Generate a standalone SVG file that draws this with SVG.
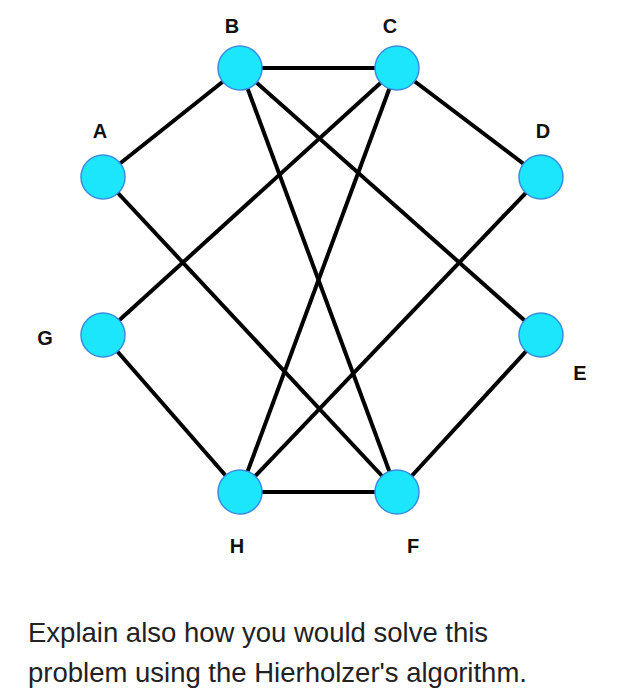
<svg xmlns="http://www.w3.org/2000/svg" width="625" height="700" viewBox="0 0 625 700">
<style>
.n{fill:#1be6fc;stroke:#3a8ee0;stroke-width:1.5}
.l{font-family:"Liberation Sans",Arial,sans-serif;font-weight:bold;font-size:20px;fill:#111;text-anchor:middle}
.e{stroke:#000;stroke-width:4;fill:none}
.t{font-family:"Liberation Sans",Arial,sans-serif;font-size:27.5px;fill:#222}
</style>
<rect width="625" height="700" fill="#fff"/>
<g id="connectors">
<line class="e" x1="240" y1="68" x2="397" y2="68"/>
<line class="e" x1="103" y1="177" x2="240" y2="68"/>
<line class="e" x1="103" y1="177" x2="397" y2="492"/>
<line class="e" x1="240" y1="68" x2="397" y2="492"/>
<line class="e" x1="240" y1="68" x2="541" y2="335"/>
<line class="e" x1="397" y1="68" x2="103" y2="335"/>
<line class="e" x1="397" y1="68" x2="240" y2="492"/>
<line class="e" x1="397" y1="68" x2="541" y2="177"/>
<line class="e" x1="103" y1="335" x2="240" y2="492"/>
<line class="e" x1="240" y1="492" x2="397" y2="492"/>
<line class="e" x1="541" y1="177" x2="240" y2="492"/>
<line class="e" x1="541" y1="335" x2="397" y2="492"/>
</g>
<g id="B"><circle class="n" cx="240" cy="68" r="22"/><text class="l" x="232" y="33">B</text></g>
<g id="C"><circle class="n" cx="397" cy="68" r="22"/><text class="l" x="390" y="33">C</text></g>
<g id="A"><circle class="n" cx="103" cy="177" r="22"/><text class="l" x="100" y="138">A</text></g>
<g id="D"><circle class="n" cx="541" cy="177" r="22"/><text class="l" x="543" y="138">D</text></g>
<g id="G"><circle class="n" cx="103" cy="335" r="22"/><text class="l" x="45" y="345">G</text></g>
<g id="E"><circle class="n" cx="541" cy="335" r="22"/><text class="l" x="580" y="380">E</text></g>
<g id="H"><circle class="n" cx="240" cy="492" r="22"/><text class="l" x="237" y="553">H</text></g>
<g id="F"><circle class="n" cx="397" cy="492" r="22"/><text class="l" x="413" y="553">F</text></g>
<text class="t" x="28" y="642">Explain also how you would solve this</text>
<text class="t" x="28" y="682">problem using the Hierholzer's algorithm.</text>
</svg>
